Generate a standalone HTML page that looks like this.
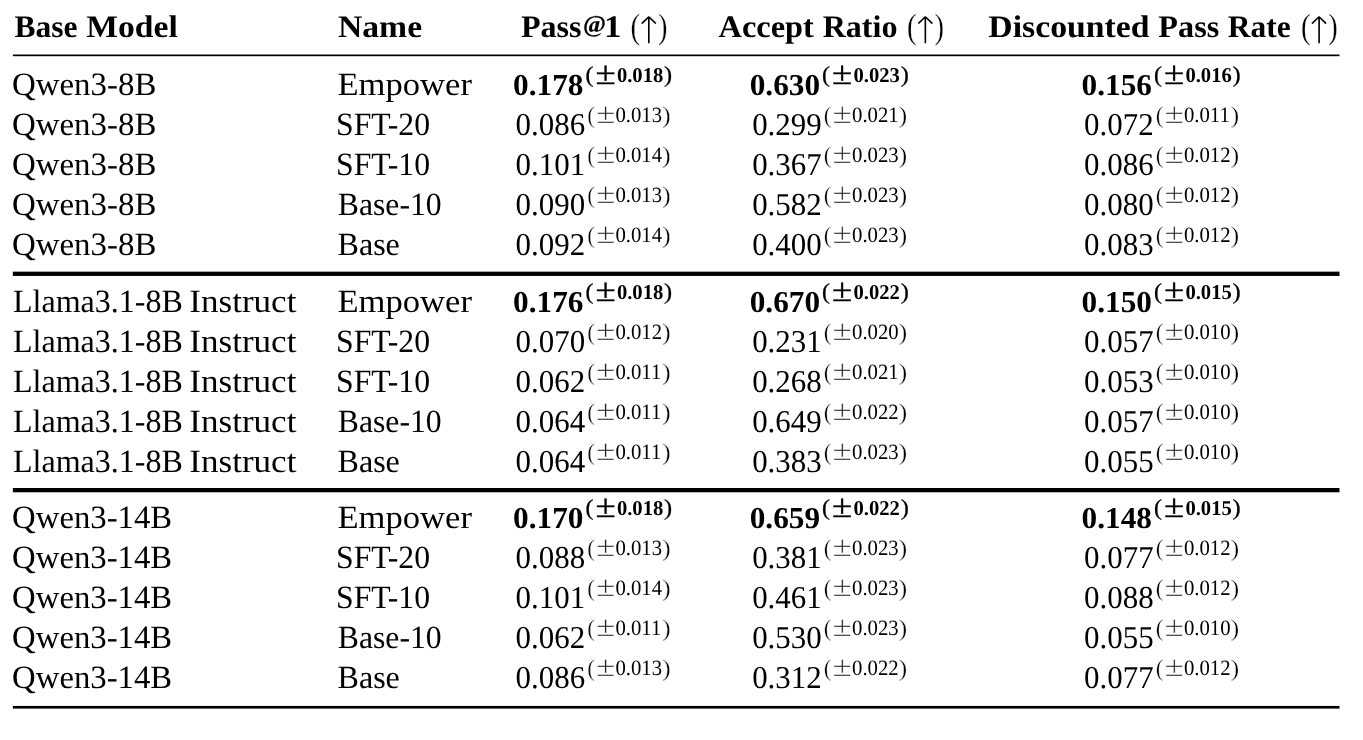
<!DOCTYPE html>
<html lang="en">
<head>
<meta charset="utf-8">
<title>Results table</title>
<style>
html,body{margin:0;padding:0;background:#fff;}
body{width:1363px;height:740px;position:relative;overflow:hidden;color:#000;font-family:"Liberation Serif",serif;}
.r{position:absolute;left:0;top:0;width:1363px;height:740px;}
.t{position:absolute;left:0;top:0;border-collapse:collapse;border-spacing:0;font-size:0;line-height:0;white-space:nowrap;}
.t th,.t td{padding:0;margin:0;border:0;width:0;height:0;font-weight:normal;text-align:left;vertical-align:top;}
.p{display:inline-block;width:0;height:0;overflow:visible;vertical-align:top;line-height:1;white-space:pre;transform-origin:0 0;text-rendering:geometricPrecision;}
</style>
</head>
<body>
<svg class="r" width="1363" height="740" viewBox="0 0 1363 740" aria-hidden="true">
<rect x="12.85" y="54.5" width="1326.65" height="1.70" fill="#000"/>
<rect x="12.85" y="271.65" width="1326.65" height="4.28" fill="#000"/>
<rect x="12.85" y="488.0" width="1326.65" height="4.28" fill="#000"/>
<rect x="12.85" y="705.92" width="1326.65" height="2.68" fill="#000"/>
</svg>
<table class="t">
<thead>
<tr><th scope="col" aria-label="Base Model"><span class="p" style="font-size:33.0px;font-weight:bold;transform:translate(14.50px,12.31px) scale(0.9565,0.9516)">Base </span><span class="p" style="font-size:33.0px;font-weight:bold;transform:translate(86.24px,12.31px) scale(1.0190,0.9516)">Model</span></th><th scope="col"><span class="p" style="font-size:33.0px;font-weight:bold;transform:translate(337.93px,12.31px) scale(1.0206,0.9516)">Name</span></th><th scope="col" aria-label="Pass@1 (↑)"><span class="p" style="font-size:33.0px;font-weight:bold;transform:translate(520.96px,12.31px) scale(0.9726,0.9516)">Pass</span><span class="p" style="font-size:33.0px;font-weight:bold;-webkit-text-stroke:0.3px #000;transform:translate(582.93px,13.15px) scale(0.7487,0.7292)">@</span><span class="p" style="font-size:33.0px;font-weight:bold;transform:translate(603.97px,12.31px) scale(1.0605,0.9516)">1 </span><span class="p" style="font-size:30px;-webkit-text-stroke:0.2px #fff;transform:translate(630.51px,10.07px) scale(0.9575,1.1673)">(</span><span class="p" style="font-family:'DejaVu Sans',sans-serif;font-size:36px;-webkit-text-stroke:1.5px #fff;transform:translate(631.38px,12.63px) scale(1.1490,1.0829)">↑</span><span class="p" style="font-size:30px;-webkit-text-stroke:0.2px #fff;transform:translate(658.16px,10.07px) scale(0.9180,1.1673)">)</span></th><th scope="col" aria-label="Accept Ratio (↑)"><span class="p" style="font-size:33.0px;font-weight:bold;transform:translate(718.55px,12.31px) scale(0.9806,0.9516)">Accept </span><span class="p" style="font-size:33.0px;font-weight:bold;transform:translate(822.63px,12.31px) scale(0.9721,0.9516)">Ratio </span><span class="p" style="font-size:30px;-webkit-text-stroke:0.2px #fff;transform:translate(907.01px,10.07px) scale(0.9575,1.1673)">(</span><span class="p" style="font-family:'DejaVu Sans',sans-serif;font-size:36px;-webkit-text-stroke:1.5px #fff;transform:translate(907.88px,12.63px) scale(1.1490,1.0829)">↑</span><span class="p" style="font-size:30px;-webkit-text-stroke:0.2px #fff;transform:translate(934.66px,10.07px) scale(0.9180,1.1673)">)</span></th><th scope="col" aria-label="Discounted Pass Rate (↑)"><span class="p" style="font-size:33.0px;font-weight:bold;transform:translate(988.36px,12.31px) scale(1.0221,0.9516)">Discounted </span><span class="p" style="font-size:33.0px;font-weight:bold;transform:translate(1158.35px,12.31px) scale(0.9765,0.9516)">Pass </span><span class="p" style="font-size:33.0px;font-weight:bold;transform:translate(1227.82px,12.31px) scale(0.9530,0.9516)">Rate </span><span class="p" style="font-size:30px;-webkit-text-stroke:0.2px #fff;transform:translate(1300.91px,10.07px) scale(0.9575,1.1673)">(</span><span class="p" style="font-family:'DejaVu Sans',sans-serif;font-size:36px;-webkit-text-stroke:1.5px #fff;transform:translate(1301.78px,12.63px) scale(1.1490,1.0829)">↑</span><span class="p" style="font-size:30px;-webkit-text-stroke:0.2px #fff;transform:translate(1328.56px,10.07px) scale(0.9180,1.1673)">)</span></th></tr>
</thead>
<tbody>
<tr><td><span class="p" style="font-size:33.0px;transform:translate(12.00px,69.46px) scale(0.9967,0.9855)">Qwen3-8B</span></td><td><span class="p" style="font-size:33.0px;transform:translate(337.45px,69.46px) scale(1.0480,0.9855)">Empower</span></td><td aria-label="0.178(±0.018)"><span class="p" style="font-size:31.3px;font-weight:bold;transform:translate(513.11px,69.68px) scale(0.9989,0.9721)">0.178</span><span class="p" style="font-size:21px;-webkit-text-stroke:0.3px #000;transform:translate(585.51px,63.77px) scale(1.1385,1.0776)">(</span><span class="p" style="font-size:30px;-webkit-text-stroke:0.3px #000;transform:translate(595.45px,58.18px) scale(1.2274,1.0779)">±</span><span class="p" style="font-size:22px;font-weight:bold;transform:translate(616.88px,64.74px) scale(0.9387,0.9604)">0.018</span><span class="p" style="font-size:21px;-webkit-text-stroke:0.3px #000;transform:translate(664.09px,63.77px) scale(1.1585,1.0776)">)</span></td><td aria-label="0.630(±0.023)"><span class="p" style="font-size:31.3px;font-weight:bold;transform:translate(749.71px,69.68px) scale(0.9989,0.9721)">0.630</span><span class="p" style="font-size:21px;-webkit-text-stroke:0.3px #000;transform:translate(822.11px,63.77px) scale(1.1385,1.0776)">(</span><span class="p" style="font-size:30px;-webkit-text-stroke:0.3px #000;transform:translate(832.05px,58.18px) scale(1.2274,1.0779)">±</span><span class="p" style="font-size:22px;font-weight:bold;transform:translate(853.48px,64.74px) scale(0.9387,0.9604)">0.023</span><span class="p" style="font-size:21px;-webkit-text-stroke:0.3px #000;transform:translate(900.69px,63.77px) scale(1.1585,1.0776)">)</span></td><td aria-label="0.156(±0.016)"><span class="p" style="font-size:31.3px;font-weight:bold;transform:translate(1081.61px,69.68px) scale(0.9989,0.9721)">0.156</span><span class="p" style="font-size:21px;-webkit-text-stroke:0.3px #000;transform:translate(1154.01px,63.77px) scale(1.1385,1.0776)">(</span><span class="p" style="font-size:30px;-webkit-text-stroke:0.3px #000;transform:translate(1163.95px,58.18px) scale(1.2274,1.0779)">±</span><span class="p" style="font-size:22px;font-weight:bold;transform:translate(1185.38px,64.74px) scale(0.9387,0.9604)">0.016</span><span class="p" style="font-size:21px;-webkit-text-stroke:0.3px #000;transform:translate(1232.59px,63.77px) scale(1.1585,1.0776)">)</span></td></tr>
<tr><td><span class="p" style="font-size:33.0px;transform:translate(12.00px,109.46px) scale(0.9967,0.9855)">Qwen3-8B</span></td><td><span class="p" style="font-size:33.0px;transform:translate(336.01px,109.46px) scale(0.9606,0.9855)">SFT-20</span></td><td aria-label="0.086(±0.013)"><span class="p" style="font-size:31.3px;transform:translate(515.55px,108.47px) scale(0.9886,1.0188)">0.086</span><span class="p" style="font-size:21px;-webkit-text-stroke:0.3px #fff;transform:translate(587.24px,103.72px) scale(1.1181,1.1310)">(</span><span class="p" style="font-size:28px;-webkit-text-stroke:0.45px #fff;transform:translate(595.95px,100.17px) scale(1.2645,1.0430)">±</span><span class="p" style="font-size:22px;transform:translate(615.42px,104.16px) scale(0.9425,0.9934)">0.013</span><span class="p" style="font-size:21px;-webkit-text-stroke:0.3px #fff;transform:translate(662.02px,103.72px) scale(1.2521,1.1310)">)</span></td><td aria-label="0.299(±0.021)"><span class="p" style="font-size:31.3px;transform:translate(752.15px,108.47px) scale(0.9886,1.0188)">0.299</span><span class="p" style="font-size:21px;-webkit-text-stroke:0.3px #fff;transform:translate(823.84px,103.72px) scale(1.1181,1.1310)">(</span><span class="p" style="font-size:28px;-webkit-text-stroke:0.45px #fff;transform:translate(832.55px,100.17px) scale(1.2645,1.0430)">±</span><span class="p" style="font-size:22px;transform:translate(852.02px,104.16px) scale(0.9425,0.9934)">0.021</span><span class="p" style="font-size:21px;-webkit-text-stroke:0.3px #fff;transform:translate(898.62px,103.72px) scale(1.2521,1.1310)">)</span></td><td aria-label="0.072(±0.011)"><span class="p" style="font-size:31.3px;transform:translate(1084.05px,108.47px) scale(0.9886,1.0188)">0.072</span><span class="p" style="font-size:21px;-webkit-text-stroke:0.3px #fff;transform:translate(1155.74px,103.72px) scale(1.1181,1.1310)">(</span><span class="p" style="font-size:28px;-webkit-text-stroke:0.45px #fff;transform:translate(1164.45px,100.17px) scale(1.2645,1.0430)">±</span><span class="p" style="font-size:22px;transform:translate(1183.92px,104.16px) scale(0.9425,0.9934)">0.011</span><span class="p" style="font-size:21px;-webkit-text-stroke:0.3px #fff;transform:translate(1230.52px,103.72px) scale(1.2521,1.1310)">)</span></td></tr>
<tr><td><span class="p" style="font-size:33.0px;transform:translate(12.00px,149.46px) scale(0.9967,0.9855)">Qwen3-8B</span></td><td><span class="p" style="font-size:33.0px;transform:translate(336.01px,149.46px) scale(0.9606,0.9855)">SFT-10</span></td><td aria-label="0.101(±0.014)"><span class="p" style="font-size:31.3px;transform:translate(515.55px,148.47px) scale(0.9886,1.0188)">0.101</span><span class="p" style="font-size:21px;-webkit-text-stroke:0.3px #fff;transform:translate(587.24px,143.72px) scale(1.1181,1.1310)">(</span><span class="p" style="font-size:28px;-webkit-text-stroke:0.45px #fff;transform:translate(595.95px,140.17px) scale(1.2645,1.0430)">±</span><span class="p" style="font-size:22px;transform:translate(615.42px,144.16px) scale(0.9425,0.9934)">0.014</span><span class="p" style="font-size:21px;-webkit-text-stroke:0.3px #fff;transform:translate(662.02px,143.72px) scale(1.2521,1.1310)">)</span></td><td aria-label="0.367(±0.023)"><span class="p" style="font-size:31.3px;transform:translate(752.15px,148.47px) scale(0.9886,1.0188)">0.367</span><span class="p" style="font-size:21px;-webkit-text-stroke:0.3px #fff;transform:translate(823.84px,143.72px) scale(1.1181,1.1310)">(</span><span class="p" style="font-size:28px;-webkit-text-stroke:0.45px #fff;transform:translate(832.55px,140.17px) scale(1.2645,1.0430)">±</span><span class="p" style="font-size:22px;transform:translate(852.02px,144.16px) scale(0.9425,0.9934)">0.023</span><span class="p" style="font-size:21px;-webkit-text-stroke:0.3px #fff;transform:translate(898.62px,143.72px) scale(1.2521,1.1310)">)</span></td><td aria-label="0.086(±0.012)"><span class="p" style="font-size:31.3px;transform:translate(1084.05px,148.47px) scale(0.9886,1.0188)">0.086</span><span class="p" style="font-size:21px;-webkit-text-stroke:0.3px #fff;transform:translate(1155.74px,143.72px) scale(1.1181,1.1310)">(</span><span class="p" style="font-size:28px;-webkit-text-stroke:0.45px #fff;transform:translate(1164.45px,140.17px) scale(1.2645,1.0430)">±</span><span class="p" style="font-size:22px;transform:translate(1183.92px,144.16px) scale(0.9425,0.9934)">0.012</span><span class="p" style="font-size:21px;-webkit-text-stroke:0.3px #fff;transform:translate(1230.52px,143.72px) scale(1.2521,1.1310)">)</span></td></tr>
<tr><td><span class="p" style="font-size:33.0px;transform:translate(12.00px,189.46px) scale(0.9967,0.9855)">Qwen3-8B</span></td><td><span class="p" style="font-size:33.0px;transform:translate(337.72px,189.46px) scale(0.9612,0.9855)">Base-10</span></td><td aria-label="0.090(±0.013)"><span class="p" style="font-size:31.3px;transform:translate(515.55px,188.47px) scale(0.9886,1.0188)">0.090</span><span class="p" style="font-size:21px;-webkit-text-stroke:0.3px #fff;transform:translate(587.24px,183.72px) scale(1.1181,1.1310)">(</span><span class="p" style="font-size:28px;-webkit-text-stroke:0.45px #fff;transform:translate(595.95px,180.17px) scale(1.2645,1.0430)">±</span><span class="p" style="font-size:22px;transform:translate(615.42px,184.16px) scale(0.9425,0.9934)">0.013</span><span class="p" style="font-size:21px;-webkit-text-stroke:0.3px #fff;transform:translate(662.02px,183.72px) scale(1.2521,1.1310)">)</span></td><td aria-label="0.582(±0.023)"><span class="p" style="font-size:31.3px;transform:translate(752.15px,188.47px) scale(0.9886,1.0188)">0.582</span><span class="p" style="font-size:21px;-webkit-text-stroke:0.3px #fff;transform:translate(823.84px,183.72px) scale(1.1181,1.1310)">(</span><span class="p" style="font-size:28px;-webkit-text-stroke:0.45px #fff;transform:translate(832.55px,180.17px) scale(1.2645,1.0430)">±</span><span class="p" style="font-size:22px;transform:translate(852.02px,184.16px) scale(0.9425,0.9934)">0.023</span><span class="p" style="font-size:21px;-webkit-text-stroke:0.3px #fff;transform:translate(898.62px,183.72px) scale(1.2521,1.1310)">)</span></td><td aria-label="0.080(±0.012)"><span class="p" style="font-size:31.3px;transform:translate(1084.05px,188.47px) scale(0.9886,1.0188)">0.080</span><span class="p" style="font-size:21px;-webkit-text-stroke:0.3px #fff;transform:translate(1155.74px,183.72px) scale(1.1181,1.1310)">(</span><span class="p" style="font-size:28px;-webkit-text-stroke:0.45px #fff;transform:translate(1164.45px,180.17px) scale(1.2645,1.0430)">±</span><span class="p" style="font-size:22px;transform:translate(1183.92px,184.16px) scale(0.9425,0.9934)">0.012</span><span class="p" style="font-size:21px;-webkit-text-stroke:0.3px #fff;transform:translate(1230.52px,183.72px) scale(1.2521,1.1310)">)</span></td></tr>
<tr><td><span class="p" style="font-size:33.0px;transform:translate(12.00px,229.46px) scale(0.9967,0.9855)">Qwen3-8B</span></td><td><span class="p" style="font-size:33.0px;transform:translate(337.50px,229.46px) scale(0.9722,0.9855)">Base</span></td><td aria-label="0.092(±0.014)"><span class="p" style="font-size:31.3px;transform:translate(515.55px,228.47px) scale(0.9886,1.0188)">0.092</span><span class="p" style="font-size:21px;-webkit-text-stroke:0.3px #fff;transform:translate(587.24px,223.72px) scale(1.1181,1.1310)">(</span><span class="p" style="font-size:28px;-webkit-text-stroke:0.45px #fff;transform:translate(595.95px,220.17px) scale(1.2645,1.0430)">±</span><span class="p" style="font-size:22px;transform:translate(615.42px,224.16px) scale(0.9425,0.9934)">0.014</span><span class="p" style="font-size:21px;-webkit-text-stroke:0.3px #fff;transform:translate(662.02px,223.72px) scale(1.2521,1.1310)">)</span></td><td aria-label="0.400(±0.023)"><span class="p" style="font-size:31.3px;transform:translate(752.15px,228.47px) scale(0.9886,1.0188)">0.400</span><span class="p" style="font-size:21px;-webkit-text-stroke:0.3px #fff;transform:translate(823.84px,223.72px) scale(1.1181,1.1310)">(</span><span class="p" style="font-size:28px;-webkit-text-stroke:0.45px #fff;transform:translate(832.55px,220.17px) scale(1.2645,1.0430)">±</span><span class="p" style="font-size:22px;transform:translate(852.02px,224.16px) scale(0.9425,0.9934)">0.023</span><span class="p" style="font-size:21px;-webkit-text-stroke:0.3px #fff;transform:translate(898.62px,223.72px) scale(1.2521,1.1310)">)</span></td><td aria-label="0.083(±0.012)"><span class="p" style="font-size:31.3px;transform:translate(1084.05px,228.47px) scale(0.9886,1.0188)">0.083</span><span class="p" style="font-size:21px;-webkit-text-stroke:0.3px #fff;transform:translate(1155.74px,223.72px) scale(1.1181,1.1310)">(</span><span class="p" style="font-size:28px;-webkit-text-stroke:0.45px #fff;transform:translate(1164.45px,220.17px) scale(1.2645,1.0430)">±</span><span class="p" style="font-size:22px;transform:translate(1183.92px,224.16px) scale(0.9425,0.9934)">0.012</span><span class="p" style="font-size:21px;-webkit-text-stroke:0.3px #fff;transform:translate(1230.52px,223.72px) scale(1.2521,1.1310)">)</span></td></tr>
<tr><td aria-label="Llama3.1-8B Instruct"><span class="p" style="font-size:33.0px;transform:translate(12.99px,286.46px) scale(0.9704,0.9855)">Llama3.1-8B </span><span class="p" style="font-size:33.0px;transform:translate(189.28px,286.46px) scale(1.0629,0.9855)">Instruct</span></td><td><span class="p" style="font-size:33.0px;transform:translate(337.45px,286.46px) scale(1.0480,0.9855)">Empower</span></td><td aria-label="0.176(±0.018)"><span class="p" style="font-size:31.3px;font-weight:bold;transform:translate(513.11px,286.68px) scale(0.9989,0.9721)">0.176</span><span class="p" style="font-size:21px;-webkit-text-stroke:0.3px #000;transform:translate(585.51px,280.77px) scale(1.1385,1.0776)">(</span><span class="p" style="font-size:30px;-webkit-text-stroke:0.3px #000;transform:translate(595.45px,275.18px) scale(1.2274,1.0779)">±</span><span class="p" style="font-size:22px;font-weight:bold;transform:translate(616.88px,281.74px) scale(0.9387,0.9604)">0.018</span><span class="p" style="font-size:21px;-webkit-text-stroke:0.3px #000;transform:translate(664.09px,280.77px) scale(1.1585,1.0776)">)</span></td><td aria-label="0.670(±0.022)"><span class="p" style="font-size:31.3px;font-weight:bold;transform:translate(749.71px,286.68px) scale(0.9989,0.9721)">0.670</span><span class="p" style="font-size:21px;-webkit-text-stroke:0.3px #000;transform:translate(822.11px,280.77px) scale(1.1385,1.0776)">(</span><span class="p" style="font-size:30px;-webkit-text-stroke:0.3px #000;transform:translate(832.05px,275.18px) scale(1.2274,1.0779)">±</span><span class="p" style="font-size:22px;font-weight:bold;transform:translate(853.48px,281.74px) scale(0.9387,0.9604)">0.022</span><span class="p" style="font-size:21px;-webkit-text-stroke:0.3px #000;transform:translate(900.69px,280.77px) scale(1.1585,1.0776)">)</span></td><td aria-label="0.150(±0.015)"><span class="p" style="font-size:31.3px;font-weight:bold;transform:translate(1081.61px,286.68px) scale(0.9989,0.9721)">0.150</span><span class="p" style="font-size:21px;-webkit-text-stroke:0.3px #000;transform:translate(1154.01px,280.77px) scale(1.1385,1.0776)">(</span><span class="p" style="font-size:30px;-webkit-text-stroke:0.3px #000;transform:translate(1163.95px,275.18px) scale(1.2274,1.0779)">±</span><span class="p" style="font-size:22px;font-weight:bold;transform:translate(1185.38px,281.74px) scale(0.9387,0.9604)">0.015</span><span class="p" style="font-size:21px;-webkit-text-stroke:0.3px #000;transform:translate(1232.59px,280.77px) scale(1.1585,1.0776)">)</span></td></tr>
<tr><td aria-label="Llama3.1-8B Instruct"><span class="p" style="font-size:33.0px;transform:translate(12.99px,326.46px) scale(0.9704,0.9855)">Llama3.1-8B </span><span class="p" style="font-size:33.0px;transform:translate(189.28px,326.46px) scale(1.0629,0.9855)">Instruct</span></td><td><span class="p" style="font-size:33.0px;transform:translate(336.01px,326.46px) scale(0.9606,0.9855)">SFT-20</span></td><td aria-label="0.070(±0.012)"><span class="p" style="font-size:31.3px;transform:translate(515.55px,325.47px) scale(0.9886,1.0188)">0.070</span><span class="p" style="font-size:21px;-webkit-text-stroke:0.3px #fff;transform:translate(587.24px,320.72px) scale(1.1181,1.1310)">(</span><span class="p" style="font-size:28px;-webkit-text-stroke:0.45px #fff;transform:translate(595.95px,317.17px) scale(1.2645,1.0430)">±</span><span class="p" style="font-size:22px;transform:translate(615.42px,321.16px) scale(0.9425,0.9934)">0.012</span><span class="p" style="font-size:21px;-webkit-text-stroke:0.3px #fff;transform:translate(662.02px,320.72px) scale(1.2521,1.1310)">)</span></td><td aria-label="0.231(±0.020)"><span class="p" style="font-size:31.3px;transform:translate(752.15px,325.47px) scale(0.9886,1.0188)">0.231</span><span class="p" style="font-size:21px;-webkit-text-stroke:0.3px #fff;transform:translate(823.84px,320.72px) scale(1.1181,1.1310)">(</span><span class="p" style="font-size:28px;-webkit-text-stroke:0.45px #fff;transform:translate(832.55px,317.17px) scale(1.2645,1.0430)">±</span><span class="p" style="font-size:22px;transform:translate(852.02px,321.16px) scale(0.9425,0.9934)">0.020</span><span class="p" style="font-size:21px;-webkit-text-stroke:0.3px #fff;transform:translate(898.62px,320.72px) scale(1.2521,1.1310)">)</span></td><td aria-label="0.057(±0.010)"><span class="p" style="font-size:31.3px;transform:translate(1084.05px,325.47px) scale(0.9886,1.0188)">0.057</span><span class="p" style="font-size:21px;-webkit-text-stroke:0.3px #fff;transform:translate(1155.74px,320.72px) scale(1.1181,1.1310)">(</span><span class="p" style="font-size:28px;-webkit-text-stroke:0.45px #fff;transform:translate(1164.45px,317.17px) scale(1.2645,1.0430)">±</span><span class="p" style="font-size:22px;transform:translate(1183.92px,321.16px) scale(0.9425,0.9934)">0.010</span><span class="p" style="font-size:21px;-webkit-text-stroke:0.3px #fff;transform:translate(1230.52px,320.72px) scale(1.2521,1.1310)">)</span></td></tr>
<tr><td aria-label="Llama3.1-8B Instruct"><span class="p" style="font-size:33.0px;transform:translate(12.99px,366.46px) scale(0.9704,0.9855)">Llama3.1-8B </span><span class="p" style="font-size:33.0px;transform:translate(189.28px,366.46px) scale(1.0629,0.9855)">Instruct</span></td><td><span class="p" style="font-size:33.0px;transform:translate(336.01px,366.46px) scale(0.9606,0.9855)">SFT-10</span></td><td aria-label="0.062(±0.011)"><span class="p" style="font-size:31.3px;transform:translate(515.55px,365.47px) scale(0.9886,1.0188)">0.062</span><span class="p" style="font-size:21px;-webkit-text-stroke:0.3px #fff;transform:translate(587.24px,360.72px) scale(1.1181,1.1310)">(</span><span class="p" style="font-size:28px;-webkit-text-stroke:0.45px #fff;transform:translate(595.95px,357.17px) scale(1.2645,1.0430)">±</span><span class="p" style="font-size:22px;transform:translate(615.42px,361.16px) scale(0.9425,0.9934)">0.011</span><span class="p" style="font-size:21px;-webkit-text-stroke:0.3px #fff;transform:translate(662.02px,360.72px) scale(1.2521,1.1310)">)</span></td><td aria-label="0.268(±0.021)"><span class="p" style="font-size:31.3px;transform:translate(752.15px,365.47px) scale(0.9886,1.0188)">0.268</span><span class="p" style="font-size:21px;-webkit-text-stroke:0.3px #fff;transform:translate(823.84px,360.72px) scale(1.1181,1.1310)">(</span><span class="p" style="font-size:28px;-webkit-text-stroke:0.45px #fff;transform:translate(832.55px,357.17px) scale(1.2645,1.0430)">±</span><span class="p" style="font-size:22px;transform:translate(852.02px,361.16px) scale(0.9425,0.9934)">0.021</span><span class="p" style="font-size:21px;-webkit-text-stroke:0.3px #fff;transform:translate(898.62px,360.72px) scale(1.2521,1.1310)">)</span></td><td aria-label="0.053(±0.010)"><span class="p" style="font-size:31.3px;transform:translate(1084.05px,365.47px) scale(0.9886,1.0188)">0.053</span><span class="p" style="font-size:21px;-webkit-text-stroke:0.3px #fff;transform:translate(1155.74px,360.72px) scale(1.1181,1.1310)">(</span><span class="p" style="font-size:28px;-webkit-text-stroke:0.45px #fff;transform:translate(1164.45px,357.17px) scale(1.2645,1.0430)">±</span><span class="p" style="font-size:22px;transform:translate(1183.92px,361.16px) scale(0.9425,0.9934)">0.010</span><span class="p" style="font-size:21px;-webkit-text-stroke:0.3px #fff;transform:translate(1230.52px,360.72px) scale(1.2521,1.1310)">)</span></td></tr>
<tr><td aria-label="Llama3.1-8B Instruct"><span class="p" style="font-size:33.0px;transform:translate(12.99px,406.46px) scale(0.9704,0.9855)">Llama3.1-8B </span><span class="p" style="font-size:33.0px;transform:translate(189.28px,406.46px) scale(1.0629,0.9855)">Instruct</span></td><td><span class="p" style="font-size:33.0px;transform:translate(337.72px,406.46px) scale(0.9612,0.9855)">Base-10</span></td><td aria-label="0.064(±0.011)"><span class="p" style="font-size:31.3px;transform:translate(515.55px,405.47px) scale(0.9886,1.0188)">0.064</span><span class="p" style="font-size:21px;-webkit-text-stroke:0.3px #fff;transform:translate(587.24px,400.72px) scale(1.1181,1.1310)">(</span><span class="p" style="font-size:28px;-webkit-text-stroke:0.45px #fff;transform:translate(595.95px,397.17px) scale(1.2645,1.0430)">±</span><span class="p" style="font-size:22px;transform:translate(615.42px,401.16px) scale(0.9425,0.9934)">0.011</span><span class="p" style="font-size:21px;-webkit-text-stroke:0.3px #fff;transform:translate(662.02px,400.72px) scale(1.2521,1.1310)">)</span></td><td aria-label="0.649(±0.022)"><span class="p" style="font-size:31.3px;transform:translate(752.15px,405.47px) scale(0.9886,1.0188)">0.649</span><span class="p" style="font-size:21px;-webkit-text-stroke:0.3px #fff;transform:translate(823.84px,400.72px) scale(1.1181,1.1310)">(</span><span class="p" style="font-size:28px;-webkit-text-stroke:0.45px #fff;transform:translate(832.55px,397.17px) scale(1.2645,1.0430)">±</span><span class="p" style="font-size:22px;transform:translate(852.02px,401.16px) scale(0.9425,0.9934)">0.022</span><span class="p" style="font-size:21px;-webkit-text-stroke:0.3px #fff;transform:translate(898.62px,400.72px) scale(1.2521,1.1310)">)</span></td><td aria-label="0.057(±0.010)"><span class="p" style="font-size:31.3px;transform:translate(1084.05px,405.47px) scale(0.9886,1.0188)">0.057</span><span class="p" style="font-size:21px;-webkit-text-stroke:0.3px #fff;transform:translate(1155.74px,400.72px) scale(1.1181,1.1310)">(</span><span class="p" style="font-size:28px;-webkit-text-stroke:0.45px #fff;transform:translate(1164.45px,397.17px) scale(1.2645,1.0430)">±</span><span class="p" style="font-size:22px;transform:translate(1183.92px,401.16px) scale(0.9425,0.9934)">0.010</span><span class="p" style="font-size:21px;-webkit-text-stroke:0.3px #fff;transform:translate(1230.52px,400.72px) scale(1.2521,1.1310)">)</span></td></tr>
<tr><td aria-label="Llama3.1-8B Instruct"><span class="p" style="font-size:33.0px;transform:translate(12.99px,446.46px) scale(0.9704,0.9855)">Llama3.1-8B </span><span class="p" style="font-size:33.0px;transform:translate(189.28px,446.46px) scale(1.0629,0.9855)">Instruct</span></td><td><span class="p" style="font-size:33.0px;transform:translate(337.50px,446.46px) scale(0.9722,0.9855)">Base</span></td><td aria-label="0.064(±0.011)"><span class="p" style="font-size:31.3px;transform:translate(515.55px,445.47px) scale(0.9886,1.0188)">0.064</span><span class="p" style="font-size:21px;-webkit-text-stroke:0.3px #fff;transform:translate(587.24px,440.72px) scale(1.1181,1.1310)">(</span><span class="p" style="font-size:28px;-webkit-text-stroke:0.45px #fff;transform:translate(595.95px,437.17px) scale(1.2645,1.0430)">±</span><span class="p" style="font-size:22px;transform:translate(615.42px,441.16px) scale(0.9425,0.9934)">0.011</span><span class="p" style="font-size:21px;-webkit-text-stroke:0.3px #fff;transform:translate(662.02px,440.72px) scale(1.2521,1.1310)">)</span></td><td aria-label="0.383(±0.023)"><span class="p" style="font-size:31.3px;transform:translate(752.15px,445.47px) scale(0.9886,1.0188)">0.383</span><span class="p" style="font-size:21px;-webkit-text-stroke:0.3px #fff;transform:translate(823.84px,440.72px) scale(1.1181,1.1310)">(</span><span class="p" style="font-size:28px;-webkit-text-stroke:0.45px #fff;transform:translate(832.55px,437.17px) scale(1.2645,1.0430)">±</span><span class="p" style="font-size:22px;transform:translate(852.02px,441.16px) scale(0.9425,0.9934)">0.023</span><span class="p" style="font-size:21px;-webkit-text-stroke:0.3px #fff;transform:translate(898.62px,440.72px) scale(1.2521,1.1310)">)</span></td><td aria-label="0.055(±0.010)"><span class="p" style="font-size:31.3px;transform:translate(1084.05px,445.47px) scale(0.9886,1.0188)">0.055</span><span class="p" style="font-size:21px;-webkit-text-stroke:0.3px #fff;transform:translate(1155.74px,440.72px) scale(1.1181,1.1310)">(</span><span class="p" style="font-size:28px;-webkit-text-stroke:0.45px #fff;transform:translate(1164.45px,437.17px) scale(1.2645,1.0430)">±</span><span class="p" style="font-size:22px;transform:translate(1183.92px,441.16px) scale(0.9425,0.9934)">0.010</span><span class="p" style="font-size:21px;-webkit-text-stroke:0.3px #fff;transform:translate(1230.52px,440.72px) scale(1.2521,1.1310)">)</span></td></tr>
<tr><td><span class="p" style="font-size:33.0px;transform:translate(12.09px,502.46px) scale(0.9923,0.9855)">Qwen3-14B</span></td><td><span class="p" style="font-size:33.0px;transform:translate(337.45px,502.46px) scale(1.0480,0.9855)">Empower</span></td><td aria-label="0.170(±0.018)"><span class="p" style="font-size:31.3px;font-weight:bold;transform:translate(513.11px,502.68px) scale(0.9989,0.9721)">0.170</span><span class="p" style="font-size:21px;-webkit-text-stroke:0.3px #000;transform:translate(585.51px,496.77px) scale(1.1385,1.0776)">(</span><span class="p" style="font-size:30px;-webkit-text-stroke:0.3px #000;transform:translate(595.45px,491.18px) scale(1.2274,1.0779)">±</span><span class="p" style="font-size:22px;font-weight:bold;transform:translate(616.88px,497.74px) scale(0.9387,0.9604)">0.018</span><span class="p" style="font-size:21px;-webkit-text-stroke:0.3px #000;transform:translate(664.09px,496.77px) scale(1.1585,1.0776)">)</span></td><td aria-label="0.659(±0.022)"><span class="p" style="font-size:31.3px;font-weight:bold;transform:translate(749.71px,502.68px) scale(0.9989,0.9721)">0.659</span><span class="p" style="font-size:21px;-webkit-text-stroke:0.3px #000;transform:translate(822.11px,496.77px) scale(1.1385,1.0776)">(</span><span class="p" style="font-size:30px;-webkit-text-stroke:0.3px #000;transform:translate(832.05px,491.18px) scale(1.2274,1.0779)">±</span><span class="p" style="font-size:22px;font-weight:bold;transform:translate(853.48px,497.74px) scale(0.9387,0.9604)">0.022</span><span class="p" style="font-size:21px;-webkit-text-stroke:0.3px #000;transform:translate(900.69px,496.77px) scale(1.1585,1.0776)">)</span></td><td aria-label="0.148(±0.015)"><span class="p" style="font-size:31.3px;font-weight:bold;transform:translate(1081.61px,502.68px) scale(0.9989,0.9721)">0.148</span><span class="p" style="font-size:21px;-webkit-text-stroke:0.3px #000;transform:translate(1154.01px,496.77px) scale(1.1385,1.0776)">(</span><span class="p" style="font-size:30px;-webkit-text-stroke:0.3px #000;transform:translate(1163.95px,491.18px) scale(1.2274,1.0779)">±</span><span class="p" style="font-size:22px;font-weight:bold;transform:translate(1185.38px,497.74px) scale(0.9387,0.9604)">0.015</span><span class="p" style="font-size:21px;-webkit-text-stroke:0.3px #000;transform:translate(1232.59px,496.77px) scale(1.1585,1.0776)">)</span></td></tr>
<tr><td><span class="p" style="font-size:33.0px;transform:translate(12.09px,542.46px) scale(0.9923,0.9855)">Qwen3-14B</span></td><td><span class="p" style="font-size:33.0px;transform:translate(336.01px,542.46px) scale(0.9606,0.9855)">SFT-20</span></td><td aria-label="0.088(±0.013)"><span class="p" style="font-size:31.3px;transform:translate(515.55px,541.47px) scale(0.9886,1.0188)">0.088</span><span class="p" style="font-size:21px;-webkit-text-stroke:0.3px #fff;transform:translate(587.24px,536.72px) scale(1.1181,1.1310)">(</span><span class="p" style="font-size:28px;-webkit-text-stroke:0.45px #fff;transform:translate(595.95px,533.17px) scale(1.2645,1.0430)">±</span><span class="p" style="font-size:22px;transform:translate(615.42px,537.16px) scale(0.9425,0.9934)">0.013</span><span class="p" style="font-size:21px;-webkit-text-stroke:0.3px #fff;transform:translate(662.02px,536.72px) scale(1.2521,1.1310)">)</span></td><td aria-label="0.381(±0.023)"><span class="p" style="font-size:31.3px;transform:translate(752.15px,541.47px) scale(0.9886,1.0188)">0.381</span><span class="p" style="font-size:21px;-webkit-text-stroke:0.3px #fff;transform:translate(823.84px,536.72px) scale(1.1181,1.1310)">(</span><span class="p" style="font-size:28px;-webkit-text-stroke:0.45px #fff;transform:translate(832.55px,533.17px) scale(1.2645,1.0430)">±</span><span class="p" style="font-size:22px;transform:translate(852.02px,537.16px) scale(0.9425,0.9934)">0.023</span><span class="p" style="font-size:21px;-webkit-text-stroke:0.3px #fff;transform:translate(898.62px,536.72px) scale(1.2521,1.1310)">)</span></td><td aria-label="0.077(±0.012)"><span class="p" style="font-size:31.3px;transform:translate(1084.05px,541.47px) scale(0.9886,1.0188)">0.077</span><span class="p" style="font-size:21px;-webkit-text-stroke:0.3px #fff;transform:translate(1155.74px,536.72px) scale(1.1181,1.1310)">(</span><span class="p" style="font-size:28px;-webkit-text-stroke:0.45px #fff;transform:translate(1164.45px,533.17px) scale(1.2645,1.0430)">±</span><span class="p" style="font-size:22px;transform:translate(1183.92px,537.16px) scale(0.9425,0.9934)">0.012</span><span class="p" style="font-size:21px;-webkit-text-stroke:0.3px #fff;transform:translate(1230.52px,536.72px) scale(1.2521,1.1310)">)</span></td></tr>
<tr><td><span class="p" style="font-size:33.0px;transform:translate(12.09px,582.46px) scale(0.9923,0.9855)">Qwen3-14B</span></td><td><span class="p" style="font-size:33.0px;transform:translate(336.01px,582.46px) scale(0.9606,0.9855)">SFT-10</span></td><td aria-label="0.101(±0.014)"><span class="p" style="font-size:31.3px;transform:translate(515.55px,581.47px) scale(0.9886,1.0188)">0.101</span><span class="p" style="font-size:21px;-webkit-text-stroke:0.3px #fff;transform:translate(587.24px,576.72px) scale(1.1181,1.1310)">(</span><span class="p" style="font-size:28px;-webkit-text-stroke:0.45px #fff;transform:translate(595.95px,573.17px) scale(1.2645,1.0430)">±</span><span class="p" style="font-size:22px;transform:translate(615.42px,577.16px) scale(0.9425,0.9934)">0.014</span><span class="p" style="font-size:21px;-webkit-text-stroke:0.3px #fff;transform:translate(662.02px,576.72px) scale(1.2521,1.1310)">)</span></td><td aria-label="0.461(±0.023)"><span class="p" style="font-size:31.3px;transform:translate(752.15px,581.47px) scale(0.9886,1.0188)">0.461</span><span class="p" style="font-size:21px;-webkit-text-stroke:0.3px #fff;transform:translate(823.84px,576.72px) scale(1.1181,1.1310)">(</span><span class="p" style="font-size:28px;-webkit-text-stroke:0.45px #fff;transform:translate(832.55px,573.17px) scale(1.2645,1.0430)">±</span><span class="p" style="font-size:22px;transform:translate(852.02px,577.16px) scale(0.9425,0.9934)">0.023</span><span class="p" style="font-size:21px;-webkit-text-stroke:0.3px #fff;transform:translate(898.62px,576.72px) scale(1.2521,1.1310)">)</span></td><td aria-label="0.088(±0.012)"><span class="p" style="font-size:31.3px;transform:translate(1084.05px,581.47px) scale(0.9886,1.0188)">0.088</span><span class="p" style="font-size:21px;-webkit-text-stroke:0.3px #fff;transform:translate(1155.74px,576.72px) scale(1.1181,1.1310)">(</span><span class="p" style="font-size:28px;-webkit-text-stroke:0.45px #fff;transform:translate(1164.45px,573.17px) scale(1.2645,1.0430)">±</span><span class="p" style="font-size:22px;transform:translate(1183.92px,577.16px) scale(0.9425,0.9934)">0.012</span><span class="p" style="font-size:21px;-webkit-text-stroke:0.3px #fff;transform:translate(1230.52px,576.72px) scale(1.2521,1.1310)">)</span></td></tr>
<tr><td><span class="p" style="font-size:33.0px;transform:translate(12.09px,622.46px) scale(0.9923,0.9855)">Qwen3-14B</span></td><td><span class="p" style="font-size:33.0px;transform:translate(337.72px,622.46px) scale(0.9612,0.9855)">Base-10</span></td><td aria-label="0.062(±0.011)"><span class="p" style="font-size:31.3px;transform:translate(515.55px,621.47px) scale(0.9886,1.0188)">0.062</span><span class="p" style="font-size:21px;-webkit-text-stroke:0.3px #fff;transform:translate(587.24px,616.72px) scale(1.1181,1.1310)">(</span><span class="p" style="font-size:28px;-webkit-text-stroke:0.45px #fff;transform:translate(595.95px,613.17px) scale(1.2645,1.0430)">±</span><span class="p" style="font-size:22px;transform:translate(615.42px,617.16px) scale(0.9425,0.9934)">0.011</span><span class="p" style="font-size:21px;-webkit-text-stroke:0.3px #fff;transform:translate(662.02px,616.72px) scale(1.2521,1.1310)">)</span></td><td aria-label="0.530(±0.023)"><span class="p" style="font-size:31.3px;transform:translate(752.15px,621.47px) scale(0.9886,1.0188)">0.530</span><span class="p" style="font-size:21px;-webkit-text-stroke:0.3px #fff;transform:translate(823.84px,616.72px) scale(1.1181,1.1310)">(</span><span class="p" style="font-size:28px;-webkit-text-stroke:0.45px #fff;transform:translate(832.55px,613.17px) scale(1.2645,1.0430)">±</span><span class="p" style="font-size:22px;transform:translate(852.02px,617.16px) scale(0.9425,0.9934)">0.023</span><span class="p" style="font-size:21px;-webkit-text-stroke:0.3px #fff;transform:translate(898.62px,616.72px) scale(1.2521,1.1310)">)</span></td><td aria-label="0.055(±0.010)"><span class="p" style="font-size:31.3px;transform:translate(1084.05px,621.47px) scale(0.9886,1.0188)">0.055</span><span class="p" style="font-size:21px;-webkit-text-stroke:0.3px #fff;transform:translate(1155.74px,616.72px) scale(1.1181,1.1310)">(</span><span class="p" style="font-size:28px;-webkit-text-stroke:0.45px #fff;transform:translate(1164.45px,613.17px) scale(1.2645,1.0430)">±</span><span class="p" style="font-size:22px;transform:translate(1183.92px,617.16px) scale(0.9425,0.9934)">0.010</span><span class="p" style="font-size:21px;-webkit-text-stroke:0.3px #fff;transform:translate(1230.52px,616.72px) scale(1.2521,1.1310)">)</span></td></tr>
<tr><td><span class="p" style="font-size:33.0px;transform:translate(12.09px,662.46px) scale(0.9923,0.9855)">Qwen3-14B</span></td><td><span class="p" style="font-size:33.0px;transform:translate(337.50px,662.46px) scale(0.9722,0.9855)">Base</span></td><td aria-label="0.086(±0.013)"><span class="p" style="font-size:31.3px;transform:translate(515.55px,661.47px) scale(0.9886,1.0188)">0.086</span><span class="p" style="font-size:21px;-webkit-text-stroke:0.3px #fff;transform:translate(587.24px,656.72px) scale(1.1181,1.1310)">(</span><span class="p" style="font-size:28px;-webkit-text-stroke:0.45px #fff;transform:translate(595.95px,653.17px) scale(1.2645,1.0430)">±</span><span class="p" style="font-size:22px;transform:translate(615.42px,657.16px) scale(0.9425,0.9934)">0.013</span><span class="p" style="font-size:21px;-webkit-text-stroke:0.3px #fff;transform:translate(662.02px,656.72px) scale(1.2521,1.1310)">)</span></td><td aria-label="0.312(±0.022)"><span class="p" style="font-size:31.3px;transform:translate(752.15px,661.47px) scale(0.9886,1.0188)">0.312</span><span class="p" style="font-size:21px;-webkit-text-stroke:0.3px #fff;transform:translate(823.84px,656.72px) scale(1.1181,1.1310)">(</span><span class="p" style="font-size:28px;-webkit-text-stroke:0.45px #fff;transform:translate(832.55px,653.17px) scale(1.2645,1.0430)">±</span><span class="p" style="font-size:22px;transform:translate(852.02px,657.16px) scale(0.9425,0.9934)">0.022</span><span class="p" style="font-size:21px;-webkit-text-stroke:0.3px #fff;transform:translate(898.62px,656.72px) scale(1.2521,1.1310)">)</span></td><td aria-label="0.077(±0.012)"><span class="p" style="font-size:31.3px;transform:translate(1084.05px,661.47px) scale(0.9886,1.0188)">0.077</span><span class="p" style="font-size:21px;-webkit-text-stroke:0.3px #fff;transform:translate(1155.74px,656.72px) scale(1.1181,1.1310)">(</span><span class="p" style="font-size:28px;-webkit-text-stroke:0.45px #fff;transform:translate(1164.45px,653.17px) scale(1.2645,1.0430)">±</span><span class="p" style="font-size:22px;transform:translate(1183.92px,657.16px) scale(0.9425,0.9934)">0.012</span><span class="p" style="font-size:21px;-webkit-text-stroke:0.3px #fff;transform:translate(1230.52px,656.72px) scale(1.2521,1.1310)">)</span></td></tr>
</tbody>
</table>
</body>
</html>
